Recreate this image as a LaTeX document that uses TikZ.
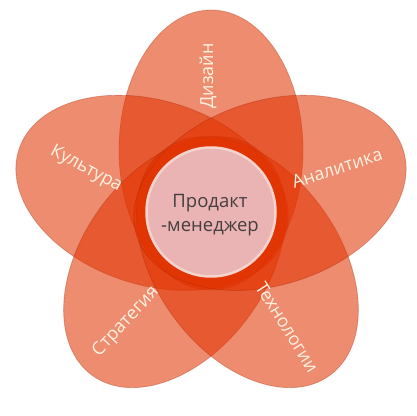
\documentclass[tikz,border=0pt]{standalone}
\usepackage{fontspec}
\setmainfont{Open Sans}
\definecolor{petalc}{RGB}{225,50,0}
\definecolor{ringc}{RGB}{246,212,206}
\definecolor{discc}{RGB}{234,180,180}
\definecolor{labc}{RGB}{255,242,226}
\definecolor{centc}{RGB}{70,62,62}
\begin{document}
\begin{tikzpicture}[x=1pt,y=1pt,
  petal/.style={fill=petalc, fill opacity=0.56, draw=petalc!70!black, draw opacity=0.3, line width=0.8pt},
  disc/.style={circle, fill=discc, draw=ringc, line width=2.5pt, minimum size=129pt, inner sep=0pt},
  lab/.style={text=labc, font=\fontsize{18}{21}\selectfont, inner sep=0pt},
  centre/.style={text=centc, font=\fontsize{18.5}{24}\selectfont, align=center, inner sep=0pt}]
\useasboundingbox (0,0) rectangle (416,416);
\foreach \k in {0,...,4}{
  \begin{scope}[shift={(211,204)}, rotate=72*\k]
    \path[petal] (0,62) ellipse [x radius=92, y radius=140];
  \end{scope}}
\node[disc] (core) at (211,204) {};
\node[centre] (title) at (210,201) {Продакт\\-менеджер};
\node[lab, rotate=90] (design) at (208,340) {Дизайн};
\node[lab, rotate=18] (analytics) at (337,248) {Аналитика};
\node[lab, rotate=-58] (tech) at (287,89) {Технологии};
\node[lab, rotate=47] (strategy) at (126,94) {Стратегия};
\node[lab, rotate=-28] (culture) at (86,247) {Культура};
\end{tikzpicture}
\end{document}
